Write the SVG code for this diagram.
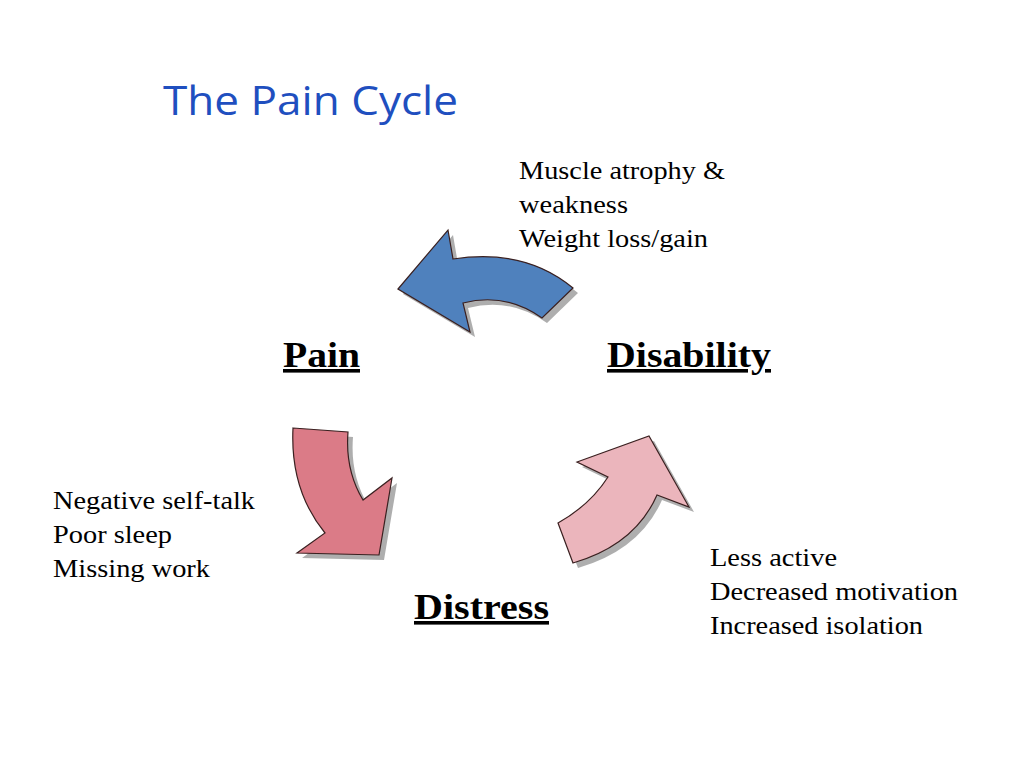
<svg xmlns="http://www.w3.org/2000/svg" width="1024" height="768" viewBox="0 0 1024 768">
<style>
.t{font-family:"Liberation Serif",serif;font-size:26px;fill:#000}
.h{font-family:"Liberation Serif",serif;font-size:36px;font-weight:bold;text-decoration:underline;fill:#000}
.a{stroke:#3a2020;stroke-width:1.2;stroke-linejoin:miter}
.s{fill:#9a9a9a;opacity:0.8}
</style>
<defs>
<path id="blue" d="M398,289 L448,230 L453,259 Q525,248 573,288 L542,318 Q505,292 463,303 L470,332 Z"/>
<path id="red" d="M293,428 L348,432 Q345,470 363,500 L392,478 L379,555 L297,553 L325,533 Q290,490 293,428 Z"/>
<path id="pink" d="M573,563 L558,523 Q590,505 608,477 L577,462 L649,436 L689,507 L657,495 Q635,545 573,563 Z"/>
</defs>
<rect width="1024" height="768" fill="#fff"/>
<text x="163" y="115" font-family="Open Sans,sans-serif" font-size="40" fill="#1f4fbf" textLength="295" lengthAdjust="spacingAndGlyphs">The Pain Cycle</text>
<g id="connectors">
<use href="#blue" class="s" transform="translate(5,5)"/>
<use href="#blue" class="a" fill="#4f81bd"/>
<use href="#red" class="s" transform="translate(5,5)"/>
<use href="#red" class="a" fill="#db7b87"/>
<use href="#pink" class="s" transform="translate(5,5)"/>
<use href="#pink" class="a" fill="#ebb5bc"/>
</g>
<g id="pain"><text class="h" x="283" y="367" textLength="77" lengthAdjust="spacingAndGlyphs">Pain</text></g>
<g id="disability"><text class="h" x="607" y="367" textLength="164" lengthAdjust="spacingAndGlyphs">Disability</text></g>
<g id="distress"><text class="h" x="414" y="619" textLength="135" lengthAdjust="spacingAndGlyphs">Distress</text></g>
<g id="note-top"><text class="t" x="519" y="179" textLength="206" lengthAdjust="spacingAndGlyphs">Muscle atrophy &amp;</text><text class="t" x="519" y="213" textLength="109" lengthAdjust="spacingAndGlyphs">weakness</text><text class="t" x="519" y="247" textLength="189" lengthAdjust="spacingAndGlyphs">Weight loss/gain</text></g>
<g id="note-left"><text class="t" x="53" y="509" textLength="202" lengthAdjust="spacingAndGlyphs">Negative self-talk</text><text class="t" x="53" y="543" textLength="119" lengthAdjust="spacingAndGlyphs">Poor sleep</text><text class="t" x="53" y="577" textLength="157" lengthAdjust="spacingAndGlyphs">Missing work</text></g>
<g id="note-right"><text class="t" x="710" y="566" textLength="127" lengthAdjust="spacingAndGlyphs">Less active</text><text class="t" x="710" y="600" textLength="248" lengthAdjust="spacingAndGlyphs">Decreased motivation</text><text class="t" x="710" y="634" textLength="213" lengthAdjust="spacingAndGlyphs">Increased isolation</text></g>
</svg>
